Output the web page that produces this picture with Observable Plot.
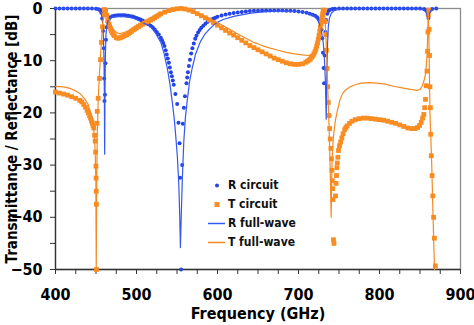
<!DOCTYPE html>
<html><head><meta charset="utf-8">
<script src="https://cdn.jsdelivr.net/npm/d3@7"></script>
<script src="https://cdn.jsdelivr.net/npm/@observablehq/plot@0.6"></script>
<style>
body{margin:0;background:#fff;}
#chart{position:relative;width:474px;height:325px;}
#chart svg text{font-family:"DejaVu Sans Condensed","DejaVu Sans",sans-serif;font-weight:bold;}
.legend{position:absolute;left:203px;top:176px;font:bold 12px "DejaVu Sans Condensed","DejaVu Sans",sans-serif;color:#111;}
.legend .row{height:19px;line-height:19px;display:flex;align-items:center;}
.legend svg{width:24px;height:19px;margin-right:1px;}
</style></head>
<body><div id="chart"></div>
<script>
// ---- data (frequency GHz, dB) ----
const rCircuit = [[400,0],[405,0],[410,0],[415,0],[420,0],[425,0],[430,0],[435,0],[440,0],[445,0],[450,-0.05],[453,-0.15],[455,-0.35],[456.5,-0.8],[457.7,-1.9],[458.7,-4.3],[459.6,-7.6],[460.1,-13.4],[460.5,-17.7],[461.1,-16.5],[461.6,-10.5],[462.3,-6],[463.2,-3.6],[464.3,-2.6],[465.8,-2.0],[467.5,-1.7],[470,-1.5],[472.5,-1.4],[475,-1.35],[477.5,-1.3],[480,-1.3],[482.5,-1.3],[485,-1.3],[487.5,-1.35],[490,-1.4],[492.5,-1.47],[495,-1.55],[497.5,-1.67],[500,-1.8],[502.5,-1.95],[505,-2.1],[507.5,-2.3],[510,-2.5],[512.5,-2.7],[515,-3.0],[517.5,-3.3],[520,-3.6],[522.5,-4.0],[525,-4.5],[527.5,-5.0],[530,-5.6],[531.5,-6.1],[533,-6.6],[534.5,-7.2],[536,-8.0],[537.3,-8.8],[538.6,-9.6],[540,-10.4],[541.2,-11.3],[542.5,-12.2],[543.7,-13.0],[544.8,-13.8],[546,-14.6],[548,-16.4],[550.2,-18.3],[551.8,-21.9],[553.2,-25.8],[553.8,-32.4],[555,-50],[556.4,-30],[557.2,-22.1],[558.5,-19],[559.8,-16.8],[561.7,-14.3],[562.6,-13.2],[563.5,-12.2],[564.7,-11],[566,-9.8],[567.5,-8.6],[569,-7.6],[570.7,-6.7],[572.5,-5.8],[574,-5.2],[576,-4.6],[578,-4.1],[580,-3.7],[582.5,-3.3],[585,-2.9],[587.5,-2.6],[590,-2.3],[592.5,-2.1],[595,-1.9],[597.5,-1.75],[600,-1.6],[605,-1.35],[610,-1.15],[615,-1.0],[620,-0.85],[625,-0.75],[630,-0.65],[635,-0.58],[640,-0.5],[645,-0.45],[650,-0.42],[655,-0.4],[660,-0.38],[665,-0.37],[670,-0.37],[675,-0.38],[680,-0.4],[685,-0.42],[690,-0.45],[695,-0.5],[700,-0.56],[705,-0.65],[710,-0.8],[714,-1.0],[717.5,-1.2],[720.5,-1.4],[723,-1.7],[725.5,-2.1],[727.2,-2.6],[728.5,-4],[729.3,-5.7],[730.2,-8.5],[731,-11.4],[731.5,-14.3],[732.3,-9],[733.2,-4.5],[734.2,-2.2],[735.5,-1.0],[737,-0.5],[739,-0.25],[742,-0.1],[745,-0.05],[750,0],[755,0],[760,0],[765,0],[770,0],[775,0],[780,0],[785,0],[790,0],[795,0],[800,0],[805,0],[810,0],[815,0],[820,0],[825,0],[830,0],[835,0],[840,0],[845,0],[850,0],[855,-0.1],[858,-0.4],[859.5,-1.2],[860.5,-1.8],[862,-0.5],[865,-0.1],[870,0]];

const tCircuit = [[400,-16.0],[405,-16.2],[410,-16.4],[415,-16.6],[420,-16.9],[425,-17.2],[430,-17.6],[432.5,-17.9],[435,-18.4],[437,-18.9],[439,-19.5],[440.5,-20.0],[442,-20.5],[443.2,-21.0],[444.4,-21.5],[445.3,-21.9],[446.2,-22.4],[447.3,-22.9],[448.3,-24.3],[449.0,-25.4],[449.5,-27.5],[449.9,-30.2],[450.1,-32.5],[450.3,-35],[450.5,-37.5],[450.6,-50],[451.2,-22],[451.6,-19.7],[452.7,-17.2],[454.3,-13.4],[455.6,-9.8],[456.8,-6.5],[458.0,-3.5],[459.2,-1.2],[460.4,-0.2],[461.8,-0.5],[463.2,-1.3],[464.6,-2.3],[466,-3.0],[467,-3.5],[468,-3.9],[469,-4.3],[470,-4.6],[471.2,-4.9],[472.5,-5.2],[475,-5.6],[477.5,-5.7],[480,-5.6],[482,-5.45],[484,-5.3],[486,-5.15],[488,-5.0],[490,-4.8],[492,-4.6],[494,-4.35],[496,-4.1],[498,-3.9],[500,-3.7],[502.5,-3.45],[505,-3.2],[507.5,-3.0],[510,-2.8],[512.5,-2.6],[515,-2.4],[517.5,-2.2],[520,-2.0],[522.5,-1.75],[525,-1.5],[527.5,-1.25],[530,-1.0],[535,-0.7],[540,-0.4],[545,-0.2],[550,-0.05],[555,0],[560,-0.1],[565,-0.3],[570,-0.6],[575,-1.0],[580,-1.4],[585,-1.8],[590,-2.2],[595,-2.7],[600,-3.2],[605,-3.7],[610,-4.2],[615,-4.7],[620,-5.1],[625,-5.6],[630,-6.1],[635,-6.6],[640,-7.1],[645,-7.5],[650,-7.9],[655,-8.3],[660,-8.7],[665,-9.1],[670,-9.5],[675,-9.8],[680,-10.1],[685,-10.4],[690,-10.6],[695,-10.7],[700,-10.7],[705,-10.6],[709,-10.3],[711,-10.1],[713,-9.9],[714.5,-9.7],[716,-9.4],[717.5,-9.1],[719,-8.7],[720.3,-8.3],[721.5,-7.8],[722.5,-7.2],[723.5,-6.6],[724.4,-5.9],[725.3,-5.2],[726.2,-4.4],[727,-3.6],[727.8,-2.9],[728.5,-2.2],[729.2,-1.6],[729.8,-1.1],[730.4,-0.6],[731,-0.3],[732,-0.4],[733,-2.5],[733.8,-5],[734.5,-8],[735.3,-11.5],[736,-15],[736.8,-18],[737.6,-20.5],[738.4,-23],[739.2,-25],[740,-26.8],[740.7,-28.8],[741.3,-31],[741.8,-33],[742.2,-34.5],[742.6,-36.6],[743.2,-44.3],[743.8,-45],[745.7,-35.9],[746.4,-33.5],[746.9,-32],[747.4,-30.5],[747.9,-29.6],[748.6,-28.5],[749.4,-27.2],[750.6,-26.3],[752,-25.6],[753.5,-24.8],[755,-24.0],[757,-23.2],[758.5,-22.8],[760,-22.5],[763,-22.0],[766,-21.6],[770,-21.3],[775,-21.1],[780,-21.0],[785,-21.0],[790,-21.1],[795,-21.2],[800,-21.3],[805,-21.4],[810,-21.6],[815,-21.8],[820,-22.0],[825,-22.3],[830,-22.6],[835,-22.9],[840,-23.0],[844,-23.0],[847,-22.8],[849.5,-22.4],[851.5,-21.8],[853.2,-21.0],[854.7,-20.3],[855.8,-19.0],[856.8,-17.4],[857.8,-14.8],[858.6,-12],[859.3,-8.2],[859.8,-4.5],[860.3,-1.2],[860.8,-0.3],[861.3,-4],[861.8,-9],[862.3,-15],[862.8,-19],[863.2,-24.1],[863.9,-28.2],[864.9,-32],[865.8,-35.9],[866.8,-40],[867.8,-44],[869,-49.3]];

const rFullWave = [[400,0],[420,0],[440,0],[450,-0.05],[454,-0.3],[456,-0.8],[457.5,-1.8],[458.5,-3.5],[459.3,-6],[459.9,-10],[460.3,-16],[460.7,-27.9],[461.1,-16],[461.6,-9],[462.3,-5],[463.5,-3.2],[465,-2.3],[468,-1.8],[472,-1.6],[478,-1.5],[485,-1.55],[490,-1.65],[495,-1.8],[500,-2.1],[505,-2.5],[510,-2.9],[517,-3.4],[523,-4.6],[530,-6.5],[534,-8.6],[538,-11.4],[541,-14.2],[544,-17.7],[546.5,-21],[548.5,-24.5],[550.5,-28.5],[552.3,-34],[553.4,-40],[554.2,-45.8],[555.2,-40],[556.5,-33],[558.4,-25.5],[560.3,-21],[562.6,-17.7],[565.5,-14],[568.8,-11.4],[573,-8.7],[579,-6.3],[585,-4.8],[591,-3.8],[598,-2.8],[607,-2.1],[620,-1.5],[641,-0.9],[660,-0.6],[681,-0.45],[695,-0.5],[705,-0.7],[712,-0.9],[717,-1.2],[721,-1.7],[724,-2.3],[726.5,-3.2],[728.5,-4.5],[730.5,-6.5],[732,-9.5],[733.2,-14],[734.2,-21.2],[735,-13],[735.8,-7],[736.8,-3.5],[738.3,-1.8],[740.5,-0.9],[744,-0.4],[750,-0.15],[760,-0.05],[780,0],[820,0],[850,-0.1],[855,-0.3],[858,-0.9],[859.7,-2.0],[860.6,-2.2],[861.5,-1.0],[863.5,-0.3],[867,-0.1],[870,0]];

const tFullWave = [[400,-14.9],[410,-15.0],[418,-15.3],[425,-15.8],[431,-16.4],[436,-17.3],[440,-18.3],[444,-20.3],[446.5,-22.3],[448,-24.4],[449,-27.5],[449.8,-33],[450.3,-50],[450.9,-33],[451.6,-24],[452.7,-17.5],[454,-13.2],[455.5,-9.2],[457,-5.6],[458.5,-2.6],[459.8,-0.7],[461,-0.1],[462.5,-0.5],[465,-1.8],[468,-3.0],[471,-3.9],[474.5,-4.5],[478,-4.8],[482,-4.7],[488,-4.4],[495,-3.8],[505,-2.9],[515,-2.0],[525,-1.2],[535,-0.6],[545,-0.2],[555,0],[565,-0.3],[575,-0.8],[585,-1.5],[595,-2.3],[605,-3.1],[615,-4.0],[625,-4.9],[635,-5.7],[645,-6.5],[655,-7.1],[665,-7.6],[675,-8.0],[685,-8.4],[695,-8.7],[705,-8.9],[712,-9.0],[717,-8.8],[720.5,-8.2],[723,-7.0],[725,-5.4],[727,-3.6],[729,-1.9],[730.5,-0.7],[731.5,-0.2],[732.5,-1.2],[733.5,-4],[735,-10],[736.5,-17],[738,-24],[739.3,-32],[740.3,-40],[741.3,-30],[742.3,-26.5],[743.5,-24],[745.5,-21.5],[747.8,-19.7],[751,-17.6],[754,-16.4],[758,-15.6],[764,-15.0],[770,-14.6],[777,-14.3],[787,-14.2],[797,-14.3],[807,-14.5],[817,-14.9],[828,-15.2],[838,-15.5],[846.5,-15.7],[850,-15.5],[852.7,-14.9],[855,-13.8],[856.8,-12.6],[858,-10.5],[858.9,-8.2],[859.6,-4.5],[860.2,-0.5],[860.9,-4],[861.6,-12],[862.3,-20],[863.2,-24],[864.5,-30],[865.8,-38],[867,-45],[868,-50]];

const xTickLabels = [400, 500, 600, 700, 800, 900];
const xMinorTicks = [400,425,450,475,500,525,550,575,600,625,650,675,700,725,750,775,800,825,850,875,900];
const yTickLabels = [0, -10, -20, -30, -40, -50];
const yMinorTicks = [-5, -15, -25, -35, -45];
const xTitle = "Frequency (GHz)";
const yTitle = "Transmittance / Reflectance [dB]";
const legendItems = ["R circuit", "T circuit", "R full-wave", "T full-wave"];

const BLUE_DOT = "#2444e6", BLUE_LINE = "#3558f2", ORANGE_SQ = "#f98c22", ORANGE_LINE = "#f58a22";
const FONT = '"DejaVu Sans Condensed","DejaVu Sans",sans-serif';

const plot = Plot.plot({
  width: 474, height: 325,
  marginLeft: 55, marginRight: 14, marginTop: 8, marginBottom: 56,
  x: {domain: [400, 900]},
  y: {domain: [-50, 0]},
  style: {fontFamily: FONT, fontSize: "16px", fontWeight: "bold", background: "white", color: "#000", overflow: "visible"},
  marks: [
    Plot.frame({stroke: "#8c8c8c", strokeWidth: 1.3}),
    Plot.axisX(xMinorTicks, {tickSize: 5, tickFormat: () => "", label: null, stroke: "#333"}),
    Plot.axisX(xTickLabels, {tickSize: 0, tickPadding: 19, label: null, fontSize: 16, fontWeight: "bold"}),
    Plot.axisY(yMinorTicks, {tickSize: 5, tickFormat: () => "", label: null, stroke: "#333"}),
    Plot.axisY(yTickLabels, {tickSize: 5, tickPadding: 8, label: null, fontSize: 16, fontWeight: "bold", stroke: "#333"}),
    Plot.ruleX([400], {stroke: "#333", strokeWidth: 1.3}),
    Plot.ruleY([-50], {stroke: "#333", strokeWidth: 1.3}),
    Plot.dot(rCircuit, {x: d => d[0], y: d => d[1], r: 2.0, fill: BLUE_DOT, stroke: "none"}),
    Plot.dot(tCircuit, {x: d => d[0], y: d => d[1], r: 2.7, symbol: "square", fill: ORANGE_SQ, stroke: "none"}),
    Plot.line(rFullWave, {x: d => d[0], y: d => d[1], stroke: BLUE_LINE, strokeWidth: 1.2}),
    Plot.line(tFullWave, {x: d => d[0], y: d => d[1], stroke: ORANGE_LINE, strokeWidth: 1.2}),
    Plot.text([xTitle], {text: d => d, frameAnchor: "bottom", dy: 44, lineAnchor: "middle", textAnchor: "middle", fontSize: 16, fontWeight: "bold", fill: "#000"}),
    Plot.text([yTitle], {text: d => d, frameAnchor: "left", dx: -43, rotate: -90, lineAnchor: "middle", textAnchor: "middle", fontSize: 15, fontWeight: "bold", fill: "#000"})
  ]
});
const chart = document.getElementById("chart");
chart.appendChild(plot);

// legend overlay
const leg = document.createElement("div");
leg.className = "legend";
const swatches = [
  `<circle cx="14" cy="9.5" r="2" fill="${BLUE_DOT}"/>`,
  `<rect x="11.5" y="7" width="5" height="5" fill="${ORANGE_SQ}"/>`,
  `<line x1="5" x2="22" y1="9.5" y2="9.5" stroke="${BLUE_LINE}" stroke-width="1.5"/>`,
  `<line x1="5" x2="22" y1="9.5" y2="9.5" stroke="${ORANGE_LINE}" stroke-width="1.5"/>`
];
legendItems.forEach((name, i) => {
  const row = document.createElement("div");
  row.className = "row";
  row.innerHTML = `<svg viewBox="0 0 24 19">${swatches[i]}</svg><span>${name}</span>`;
  leg.appendChild(row);
});
chart.appendChild(leg);
</script>
</body></html>
